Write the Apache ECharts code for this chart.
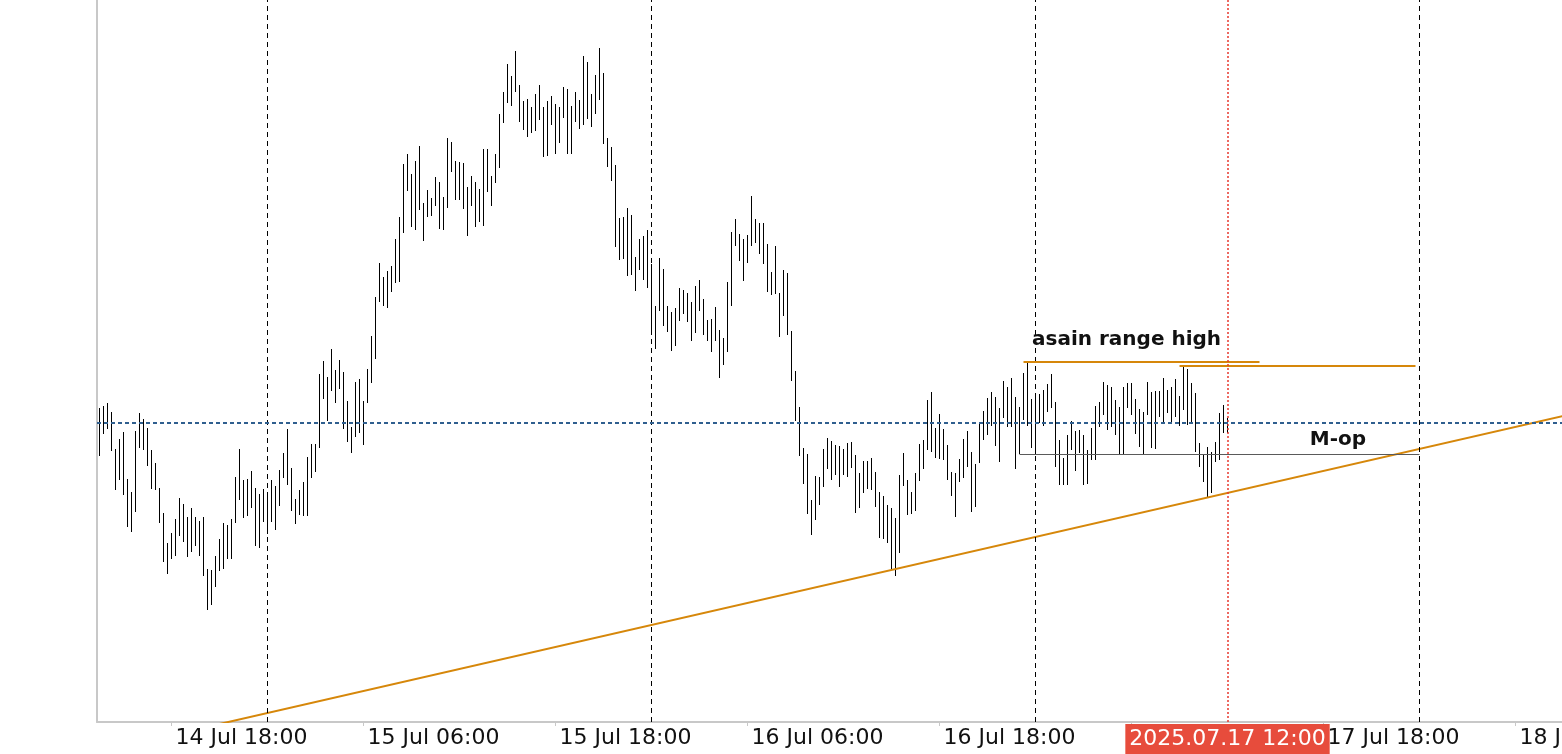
<!DOCTYPE html>
<html>
<head>
<meta charset="utf-8">
<script src="https://cdn.jsdelivr.net/npm/echarts@6/dist/echarts.min.js"></script>
<style>
html,body{margin:0;padding:0;background:#fff;}
#chart{width:1562px;height:754px;}
</style>
</head>
<body>
<div id="chart"></div>
<script>
// ---- Data (M15 bars, first bar 2025-07-14 13:30 UTC) ----
const firstBar = Date.UTC(2025, 6, 14, 13, 30);
const barMinutes = 15;

const highs = [
3359.2,3359.4,3359.7,3358.8,3355.1,3356.1,3356.8,3352.1,3350.8,3356.9,
3358.7,3358.1,3357.2,3355.0,3353.7,3351.2,3348.7,3345.7,3346.7,3348.1,
3350.2,3349.6,3348.3,3349.2,3348.3,3347.9,3348.3,3343.1,3343.0,3344.4,
3346.1,3347.7,3347.5,3348.1,3352.3,3355.1,3352.0,3352.1,3352.9,3351.2,
3350.6,3351.1,3350.8,3352.0,3351.4,3353.0,3354.7,3357.1,3353.2,3350.1,
3351.0,3351.8,3354.3,3355.6,3355.6,3362.6,3363.9,3362.3,3365.1,3363.0,
3364.0,3362.8,3359.9,3357.3,3361.8,3362.1,3359.9,3363.1,3366.4,3370.3,
3373.7,3372.3,3372.9,3373.4,3376.1,3378.3,3383.6,3384.6,3382.6,3383.9,
3385.4,3379.7,3381.0,3380.2,3382.3,3381.8,3380.3,3386.2,3385.8,3383.9,
3383.8,3383.7,3381.3,3382.4,3381.8,3381.1,3385.1,3385.1,3382.4,3384.6,
3388.6,3390.8,3393.6,3392.4,3394.9,3391.5,3389.9,3390.1,3389.3,3390.6,
3391.5,3389.3,3389.9,3390.4,3389.6,3389.3,3391.3,3391.1,3389.4,3390.8,
3390.0,3394.4,3393.8,3390.6,3392.5,3395.2,3392.7,3386.2,3385.3,3383.5,
3378.2,3378.3,3379.2,3378.5,3374.3,3376.1,3376.4,3377.0,3373.6,3369.4,
3374.2,3373.1,3369.4,3368.8,3369.2,3371.2,3371.0,3370.7,3369.8,3371.4,
3372.0,3370.1,3368.0,3368.1,3369.3,3367.0,3366.2,3371.8,3376.8,3378.1,
3376.6,3376.1,3376.5,3380.4,3378.1,3377.7,3377.7,3375.6,3372.8,3375.4,
3370.7,3373.0,3372.7,3366.9,3362.9,3359.3,3355.2,3354.6,3350.0,3352.4,
3352.3,3355.1,3356.2,3355.9,3355.5,3355.4,3355.1,3355.7,3355.8,3354.5,
3352.7,3353.9,3353.9,3354.2,3352.8,3350.8,3350.4,3349.5,3349.2,3348.2,
3352.5,3354.7,3352.0,3350.8,3352.7,3355.6,3356.0,3360.0,3360.8,3357.2,
3358.6,3357.1,3355.5,3352.8,3352.7,3354.1,3356.1,3356.9,3354.8,3353.6,
3357.7,3358.9,3360.2,3360.8,3360.3,3359.2,3361.9,3361.3,3362.2,3360.3,
3359.3,3362.7,3363.7,3360.1,3360.4,3360.6,3361.0,3361.6,3362.6,3359.8,
3356.0,3354.2,3356.5,3357.9,3356.9,3357.0,3356.5,3355.0,3357.2,3359.4,
3359.8,3361.8,3361.5,3361.3,3360.0,3359.3,3361.3,3361.7,3361.7,3360.1,
3359.1,3358.8,3361.8,3360.8,3360.9,3360.9,3362.2,3361.0,3361.3,3362.1,
3360.4,3363.3,3363.1,3361.7,3360.7,3355.7,3354.5,3355.3,3354.8,3355.8,
3358.7,3359.5,3358.2
];

const lows = [
3354.4,3356.6,3357.1,3354.9,3351.0,3352.0,3350.5,3347.3,3346.8,3348.8,
3355.2,3355.0,3353.4,3351.1,3351.0,3347.7,3343.8,3342.6,3344.1,3344.4,
3346.4,3345.8,3344.3,3344.8,3345.4,3344.4,3342.4,3339.0,3339.5,3341.3,
3342.9,3343.1,3344.1,3344.1,3347.7,3350.0,3348.2,3348.4,3349.2,3345.4,
3345.2,3347.8,3346.6,3347.8,3347.0,3349.4,3352.2,3351.5,3348.9,3347.6,
3348.5,3348.4,3348.4,3352.2,3352.8,3355.2,3360.1,3357.9,3360.9,3359.7,
3361.1,3357.1,3355.8,3354.7,3356.3,3356.7,3355.5,3359.7,3361.7,3364.1,
3369.8,3369.4,3369.2,3370.8,3371.7,3371.8,3376.7,3380.9,3377.3,3377.0,
3379.0,3375.9,3378.3,3378.4,3379.4,3377.1,3377.0,3379.2,3382.8,3380.0,
3380.0,3379.1,3376.4,3379.4,3377.3,3377.8,3377.4,3380.8,3379.4,3381.7,
3383.2,3387.7,3389.7,3389.4,3390.8,3387.8,3387.0,3386.3,3386.7,3386.9,
3388.0,3384.3,3384.4,3387.5,3384.6,3385.7,3388.2,3384.6,3384.6,3387.8,
3387.1,3387.5,3388.1,3387.3,3388.6,3390.0,3385.6,3383.3,3381.9,3375.3,
3374.0,3374.1,3372.4,3372.5,3370.9,3373.0,3372.0,3371.2,3367.0,3365.1,
3368.9,3367.4,3366.8,3364.9,3365.4,3367.9,3368.6,3367.8,3365.9,3366.7,
3368.9,3366.5,3365.9,3364.8,3365.9,3362.2,3363.5,3364.8,3369.4,3375.4,
3373.9,3371.9,3373.7,3375.4,3375.7,3374.6,3373.6,3370.8,3370.5,3370.6,
3366.3,3368.4,3366.5,3361.9,3357.9,3354.4,3351.6,3348.6,3346.5,3348.0,
3349.5,3351.3,3353.1,3352.0,3352.5,3351.3,3352.5,3352.3,3353.2,3348.7,
3349.2,3350.7,3351.1,3351.0,3349.3,3346.2,3346.1,3345.7,3343.0,3342.4,
3344.7,3351.4,3348.5,3348.6,3348.9,3351.9,3353.1,3355.0,3354.8,3354.2,
3354.1,3354.0,3352.0,3350.4,3348.3,3351.8,3352.2,3353.3,3348.8,3349.3,
3353.7,3356.0,3356.5,3357.4,3355.4,3353.8,3358.2,3357.3,3357.3,3353.1,
3354.6,3358.0,3357.4,3355.2,3354.6,3357.7,3357.4,3358.8,3359.2,3353.3,
3351.5,3351.5,3351.5,3355.0,3352.9,3354.7,3351.5,3351.6,3354.0,3354.0,
3357.3,3358.5,3357.0,3357.3,3356.5,3354.6,3354.6,3359.2,3358.5,3356.6,
3355.3,3354.5,3358.5,3355.2,3355.1,3358.3,3357.8,3358.7,3357.8,3358.3,
3357.4,3359.0,3357.5,3357.7,3354.8,3353.3,3351.8,3350.3,3350.7,3353.8,
3354.0,3356.7,3356.7
];

const tickLabels = ['14 Jul 18:00','15 Jul 06:00','15 Jul 18:00','16 Jul 06:00',
                    '16 Jul 18:00','17 Jul 06:00','17 Jul 18:00','18 Jul 06:00'];
const daySeparators = ['15 Jul 00:00','16 Jul 00:00','17 Jul 00:00','18 Jul 00:00'];
const cursorTime = '17 Jul 12:00';
const cursorLabel = '2025.07.17 12:00';

// annotation levels (price)
const referenceLevel = 3357.7;                 // blue dashed
const asianHigh1 = {from:'16 Jul 23:15', to:'17 Jul 14:00', price:3363.8};
const asianHigh2 = {from:'17 Jul 09:00', to:'17 Jul 23:45', price:3363.4};
const mondayOpen = {from:'16 Jul 23:00', to:'18 Jul 00:00', price:3354.6};
const trendPoints = [['14 Jul 21:00', 3327.6], ['18 Jul 09:00', 3358.4]];
const textNotes = [
  {text:'asain range high', time:'16 Jul 23:47', price:3366.0, align:'left'},
  {text:'M-op', time:'17 Jul 18:54', price:3356.0, align:'center'}
];

// ---- helpers ----
const MON = ['Jan','Feb','Mar','Apr','May','Jun','Jul','Aug','Sep','Oct','Nov','Dec'];
function parseT(s){
  const [d, m, hm] = s.split(' ');
  const [h, mi] = hm.split(':').map(Number);
  return Date.UTC(2025, MON.indexOf(m), Number(d), h, mi);
}
function pad(n){ return (n < 10 ? '0' : '') + n; }
function fmt(v){
  const d = new Date(v);
  return d.getUTCDate() + ' ' + MON[d.getUTCMonth()] + ' ' + pad(d.getUTCHours()) + ':' + pad(d.getUTCMinutes());
}

const bars = highs.map((h, i) => [firstBar + i * barMinutes * 60000, h, lows[i]]);
const tickTimes = tickLabels.map(parseT);

const xMin = Date.UTC(2025, 6, 14, 13, 20, 36);
const xMax = Date.UTC(2025, 6, 18, 8, 54, 22);
const yMin = 3327.8, yMax = 3400;

const font = 'DejaVu Sans';
const orange = '#d6870a';

const chart = echarts.init(document.getElementById('chart'), null, {renderer:'canvas'});
chart.setOption({
  animation: false,
  backgroundColor: '#fff',
  grid: {left: 97, right: 0, top: 0, bottom: 32, containLabel: false, outerBoundsMode: 'none'},
  xAxis: {
    type: 'value', min: xMin, max: xMax,
    axisLine: {show: true, onZero: false, lineStyle: {color: '#c8c8c8', width: 2}},
    axisTick: {show: true, customValues: tickTimes, length: 4, lineStyle: {color: '#c8c8c8', width: 1}},
    axisLabel: {
      show: true, customValues: tickTimes, formatter: fmt, hideOverlap: false,
      align: 'left', padding: [0, 0, 0, 4], margin: 5,
      color: '#111', fontFamily: font, fontSize: 22
    },
    splitLine: {show: false}
  },
  yAxis: {
    type: 'value', min: yMin, max: yMax, scale: true,
    axisLine: {show: true, lineStyle: {color: '#c8c8c8', width: 2}},
    axisTick: {show: false}, axisLabel: {show: false}, splitLine: {show: false}
  },
  series: [
    {
      name: 'bars', type: 'custom',
      data: bars,
      encode: {x: 0, y: [1, 2]},
      renderItem: function(params, api){
        const t = api.value(0);
        const p1 = api.coord([t, api.value(1)]);
        const p2 = api.coord([t, api.value(2)]);
        const x = Math.round(p1[0] - 0.5) + 0.5;
        return {type: 'line', shape: {x1: x, y1: Math.round(p1[1]), x2: x, y2: Math.round(p2[1])},
                style: {stroke: '#000', lineWidth: 1}};
      },
      z: 3
    },
    {
      name: 'trend', type: 'line',
      data: trendPoints.map(p => [parseT(p[0]), p[1]]),
      symbol: 'none', clip: true,
      lineStyle: {color: orange, width: 2},
      z: 4,
      markLine: {
        silent: true, symbol: ['none', 'none'], animation: false,
        data: [
          ...daySeparators.map(s => ({xAxis: parseT(s), label: {show: false},
            lineStyle: {color: '#000', width: 1, type: [5, 4]}})),
          {yAxis: referenceLevel, label: {show: false},
            lineStyle: {color: '#2f5f8f', width: 2, type: [4, 3]}},
          [{coord: [parseT(mondayOpen.from), mondayOpen.price], label: {show: false},
            lineStyle: {color: '#5a5a5a', width: 1, type: 'solid'}},
           {coord: [parseT(mondayOpen.to), mondayOpen.price]}],
          [{coord: [parseT(asianHigh1.from), asianHigh1.price], label: {show: false},
            lineStyle: {color: orange, width: 2, type: 'solid'}},
           {coord: [parseT(asianHigh1.to), asianHigh1.price]}],
          [{coord: [parseT(asianHigh2.from), asianHigh2.price], label: {show: false},
            lineStyle: {color: orange, width: 2, type: 'solid'}},
           {coord: [parseT(asianHigh2.to), asianHigh2.price]}],
          {xAxis: parseT(cursorTime),
            lineStyle: {color: '#e8392f', width: 1.5, type: [2, 2]},
            label: {show: true, position: 'start', formatter: cursorLabel, distance: 2,
              color: '#fff', backgroundColor: '#e74c3c', padding: [4, 4, 4, 4],
              fontFamily: font, fontSize: 22, lineHeight: 22}}
        ]
      }
    },
    {
      name: 'notes', type: 'scatter',
      data: textNotes.map(n => ({value: [parseT(n.time), n.price], name: n.text,
        label: {align: n.align}})),
      symbolSize: 0, silent: true, z: 5,
      itemStyle: {opacity: 1},
      label: {show: true, position: 'inside', formatter: '{b}', verticalAlign: 'middle',
        color: '#111', opacity: 1, fontFamily: font, fontWeight: 'bold', fontSize: 20}
    }
  ]
});
</script>
</body>
</html>
